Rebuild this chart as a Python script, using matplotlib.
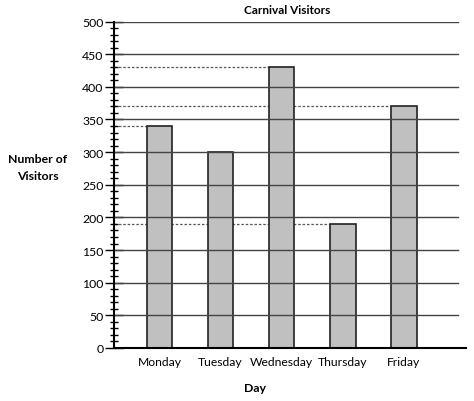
import numpy as np
import matplotlib
matplotlib.use("Agg")
import matplotlib.pyplot as plt
from matplotlib.ticker import MultipleLocator

plt.rcParams['font.family'] = ['Lato', 'DejaVu Sans']

days = ["Monday", "Tuesday", "Wednesday", "Thursday", "Friday"]
visitors = [340, 300, 430, 190, 370]
y_ticks = [0, 50, 100, 150, 200, 250, 300, 350, 400, 450, 500]

fig = plt.figure(figsize=(4.74, 4.02), dpi=100)
ax = fig.add_axes([114 / 474, 1 - 349 / 402, (466 - 114) / 474, (349 - 22.5) / 402])

x = np.arange(len(days))
width = 0.42
x_left = -0.746

# dotted guide lines from the axis to each bar (behind the bars)
for i, v in enumerate(visitors):
    if v % 50:
        ax.hlines(v, x_left, i - width / 2, colors="#555555", linewidth=0.9,
                  linestyles=(0, (2, 1.5)), zorder=1)

ax.bar(x, visitors, width=width, color="#c0c0c0", edgecolor="#222222",
       linewidth=1.2, zorder=2)

# gridlines on top of bars
for t in y_ticks[1:]:
    ax.axhline(t, xmin=0, xmax=(458 - 114) / (466 - 114), color="#444444",
               linewidth=1.0, zorder=3)

ax.set_xlim(x_left, 5.02)
ax.set_ylim(0, 500)
ax.set_yticks(y_ticks)
ax.yaxis.set_minor_locator(MultipleLocator(10))
ax.set_xticks(x)
ax.set_xticklabels(days, fontsize=8.7)
ax.tick_params(axis='x', length=0, pad=6)
ax.tick_params(axis='y', which='major', direction='inout', length=13,
               width=1.0, labelsize=8.8, pad=1)
ax.tick_params(axis='y', which='minor', direction='inout', length=6, width=1.0)

for s in ["top", "right"]:
    ax.spines[s].set_visible(False)
ax.spines["left"].set_linewidth(1.5)
ax.spines["bottom"].set_linewidth(1.5)
ax.spines["left"].set_zorder(4)
ax.spines["bottom"].set_zorder(4)

fig.text(287 / 474, 1 - 10 / 402, "Carnival Visitors", ha="center", va="center",
         fontsize=8.5, fontweight="bold")
fig.text(38 / 474, 1 - 168 / 402, "Number of\nVisitors", ha="center", va="center",
         fontsize=8.8, fontweight="bold", linespacing=1.6)
fig.text(255 / 474, 1 - 389 / 402, "Day", ha="center", va="center",
         fontsize=8.8, fontweight="bold")

fig.savefig("out.png", dpi=100)
